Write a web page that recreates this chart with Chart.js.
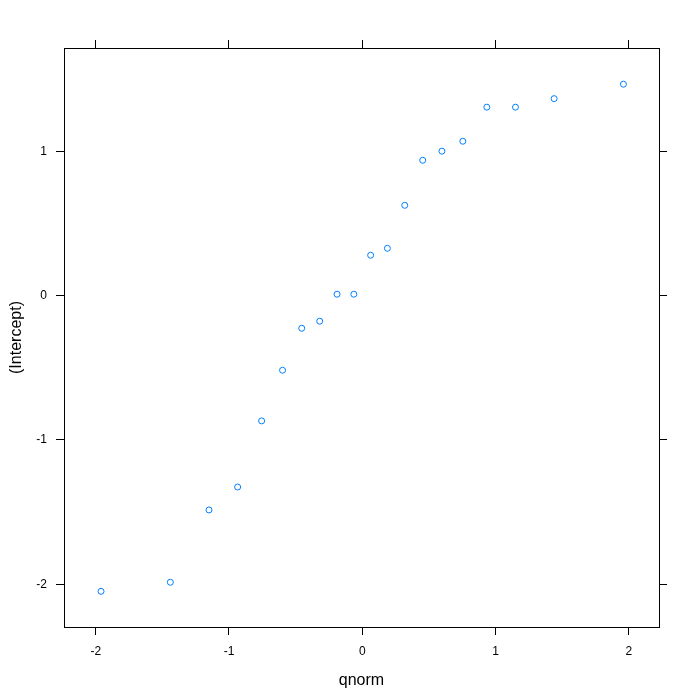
<!DOCTYPE html>
<html>
<head>
<meta charset="utf-8">
<script src="https://cdn.jsdelivr.net/npm/chart.js@4"></script>
<style>
  html, body { margin: 0; padding: 0; background: #fff; }
  canvas { display: block; }
</style>
</head>
<body>
<canvas id="qqChart" width="700" height="700"></canvas>
<script>
// theoretical quantiles (x) and random intercepts (y)
const qnormValues = [-1.96, -1.44, -1.15, -0.935, -0.755, -0.598, -0.454, -0.319, -0.189, -0.063,
                     0.063, 0.189, 0.319, 0.454, 0.598, 0.755, 0.935, 1.15, 1.44, 1.96];
const interceptValues = [-2.049, -1.986, -1.485, -1.326, -0.868, -0.517, -0.226, -0.177, 0.010, 0.010,
                         0.280, 0.328, 0.626, 0.938, 1.001, 1.070, 1.306, 1.306, 1.365, 1.465];
const xTicks = [-2, -1, 0, 1, 2];
const yTicks = [-2, -1, 0, 1];
const xLimits = [-2.238, 2.227];
const yLimits = [-2.296, 1.716];

const points = qnormValues.map((q, i) => ({ x: q, y: interceptValues[i] }));
const fontFamily = '"Liberation Sans", Arial, sans-serif';

function axis(position, ticks, limits, size, showLabels, title) {
    const horizontal = position === 'top' || position === 'bottom';
    return {
        type: 'linear',
        position: position,
        min: limits[0],
        max: limits[1],
        afterBuildTicks: s => { s.ticks = ticks.map(v => ({ value: v })); },
        afterFit: s => { if (horizontal) s.height = size; else s.width = size; },
        grid: { drawOnChartArea: false, tickLength: 8, tickColor: '#000', tickWidth: 1 },
        border: { display: true, color: '#000', width: 1 },
        ticks: {
            display: showLabels,
            color: '#000',
            padding: 9,
            maxRotation: 0,
            font: { family: fontFamily, size: 12 }
        },
        title: title ? {
            display: true,
            text: title,
            color: '#000',
            font: { family: fontFamily, size: 16 },
            padding: horizontal ? { top: 0, bottom: 10 } : { top: 7, bottom: 0 }
        } : { display: false }
    };
}

new Chart(document.getElementById('qqChart').getContext('2d'), {
    type: 'scatter',
    data: {
        datasets: [{
            data: points,
            pointStyle: 'circle',
            pointRadius: 3,
            pointBorderWidth: 1,
            pointBorderColor: '#0080ff',
            pointBackgroundColor: 'rgba(0,0,0,0)',
            xAxisID: 'x',
            yAxisID: 'y'
        }]
    },
    options: {
        responsive: false,
        animation: false,
        devicePixelRatio: 1,
        layout: { padding: 0 },
        plugins: { legend: { display: false }, tooltip: { enabled: false } },
        scales: {
            x: axis('bottom', xTicks, xLimits, 73, true, 'qnorm'),
            x2: axis('top', xTicks, xLimits, 48, false, null),
            y: axis('left', yTicks, yLimits, 64, true, '(Intercept)'),
            y2: axis('right', yTicks, yLimits, 41, false, null)
        }
    }
});
</script>
</body>
</html>
